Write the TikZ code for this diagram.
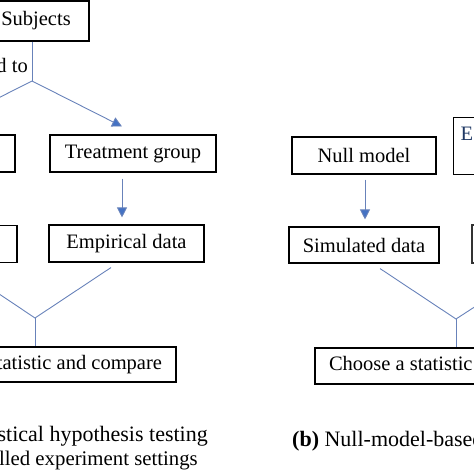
\documentclass[tikz,border=0pt]{standalone}
\usepackage{fontspec}
\setmainfont{Liberation Serif}
\usepackage{tikz}
\usetikzlibrary{arrows.meta,positioning,calc}
\definecolor{linkblue}{RGB}{104,130,186}
\definecolor{tipblue}{RGB}{68,114,196}
\definecolor{navy}{RGB}{31,56,100}

\begin{document}
\begin{tikzpicture}[x=1pt,y=-1pt,
    box/.style={rectangle, draw, line width=1.1pt, minimum height=37pt, inner sep=0pt, font=\fontsize{20.5}{24}\selectfont},
    label/.style={inner sep=0pt, font=\fontsize{20.5}{24}\selectfont},
    caption/.style={inner sep=0pt, font=\fontsize{22}{26}\selectfont},
    link/.style={draw=linkblue, line width=0.9pt},
    flow/.style={link, -{Triangle[width=10pt,length=10pt,fill=tipblue]}}]

    \useasboundingbox (0,0) rectangle (474,474);

    % Nodes (a)
    \node[box, minimum width=106pt, minimum height=40pt] (subj) at (36,21) {Subjects};
    \node[label, anchor=east] (assign) at (28,65) {d to};
    \coordinate (splitA) at (32,81);
    \node[box, minimum width=166pt] (ctrl) at (-68,153.5) {};
    \node[box, minimum width=166pt] (treat) at (133,153.5) {Treatment group};
    \node[box, minimum width=155pt] (ctrlData) at (-60.5,244) {};
    \node[box, minimum width=155pt] (emp) at (126.5,243.5) {Empirical data};
    \coordinate (mergeA) at (35,318);
    \node[box, minimum width=282pt, minimum height=35pt] (chooseA) at (35,364.5) {Choose a statistic and compare};
    \node[caption, anchor=east] (capA1) at (208,436) {istical hypothesis testing};
    \node[caption, anchor=east, font=\fontsize{20.8}{25}\selectfont] (capA2) at (198,461) {lled experiment settings};

    % Nodes (b)
    \node[box, minimum width=144pt] (null) at (364,155.5) {Null model};
    \node[box, minimum width=160pt, minimum height=57pt, anchor=north west, text=navy, text width=146pt, align=left] (obs) at (453,117) {E\\~};
    \node[box, minimum width=150pt, minimum height=36pt] (sim) at (364,245) {Simulated data};
    \node[box, minimum width=150pt, minimum height=38pt, anchor=west, line width=2pt, draw=black!80] (obsData) at (471,244) {};
    \coordinate (mergeB) at (456,319);
    \node[box, minimum width=282pt, minimum height=36pt] (chooseB) at (456,366) {Choose a statistic and compare};
    \node[caption, anchor=west] (capB) at (292,441) {\textbf{(b)} Null-model-based};

    % Connectors (a)
    \draw[link] (subj.south -| splitA) -- (splitA);
    \draw[flow] (splitA) -- ([xshift=-11pt,yshift=8pt]treat.north);
    \draw[flow] (splitA) -- ([xshift=10pt,yshift=8pt]ctrl.north);
    \draw[flow] ([xshift=-11pt,yshift=-6pt]treat.south) -- ([xshift=-4.5pt,yshift=7pt]emp.north);
    \draw[link] ([xshift=-15.5pt,yshift=-5pt]emp.south) -- (mergeA) -- ([xshift=19.5pt,yshift=-4pt]ctrlData.south);
    \draw[link] (mergeA) -- (chooseA.north);

    % Connectors (b)
    \draw[flow] ([xshift=1pt,yshift=-5pt]null.south) -- ([xshift=1pt,yshift=7pt]sim.north);
    \draw[link] ([xshift=16pt,yshift=-5pt]sim.south) -- (mergeB) -- ([xshift=-14pt,yshift=-5pt]obsData.south);
    \draw[link] (mergeB) -- (chooseB.north);
\end{tikzpicture}
\end{document}
